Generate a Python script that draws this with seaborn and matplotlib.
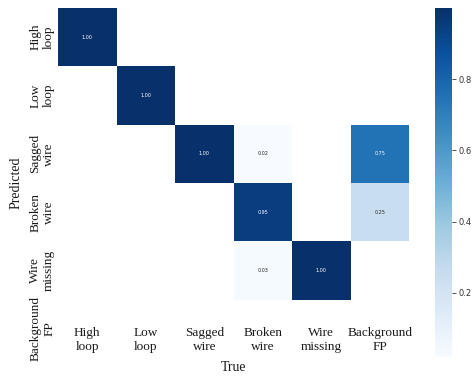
import numpy as np
import pandas as pd
import seaborn as sns
import matplotlib
matplotlib.use("Agg")
import matplotlib.pyplot as plt

classes = ["High\nloop", "Low\nloop", "Sagged\nwire", "Broken\nwire", "Wire\nmissing", "Background\nFP"]
# rows = Predicted, columns = True
row_high_loop = [1.00, 0, 0, 0, 0, 0]
row_low_loop = [0, 1.00, 0, 0, 0, 0]
row_sagged_wire = [0, 0, 1.00, 0.02, 0, 0.75]
row_broken_wire = [0, 0, 0, 0.95, 0, 0.25]
row_wire_missing = [0, 0, 0, 0.03, 1.00, 0]
row_background_fp = [0, 0, 0, 0, 0, 0]

mat = np.array([row_high_loop, row_low_loop, row_sagged_wire,
                row_broken_wire, row_wire_missing, row_background_fp], dtype=float)
mat[mat < 0.005] = np.nan
df = pd.DataFrame(mat, index=classes, columns=classes)

sns.set_theme(style="white")
plt.rcParams['font.family'] = ['DejaVu Sans']

W, H = 474, 384
fig = plt.figure(figsize=(W / 100, H / 100), dpi=100)
ax = fig.add_axes([58 / W, (H - 358) / H, 351 / W, 350 / H])
cax = fig.add_axes([435 / W, (H - 357) / H, 17 / W, 349 / H])

sns.heatmap(df, ax=ax, cbar_ax=cax, cmap="Blues", annot=True, fmt=".2f",
            annot_kws={"size": 3.5}, square=False, vmin=0.02, vmax=1.0,
            cbar_kws={"ticks": [0.2, 0.4, 0.6, 0.8]})

serif = ['Liberation Serif', 'DejaVu Serif']
ax.set_xticklabels(classes, rotation=0, fontsize=9.5, family=serif, ha='center', ma='center', color='#1a1a1a')
ax.set_yticklabels(classes, rotation=90, fontsize=9.5, family=serif, va='center', ma='center', color='#1a1a1a')
ax.tick_params(axis='x', length=0, pad=-22)
ax.tick_params(axis='y', length=0, pad=2)
ax.set_xlabel("True", fontsize=10, family=serif, color='#1a1a1a', labelpad=2)
ax.set_ylabel("Predicted", fontsize=10, family=serif, color='#1a1a1a', labelpad=5)

cax.tick_params(axis='y', right=True, length=3, width=0.6, color='#333333', labelsize=6, pad=1.5, labelcolor='#333333')
for s in cax.spines.values():
    s.set_visible(False)

fig.savefig("out.png", dpi=100)
